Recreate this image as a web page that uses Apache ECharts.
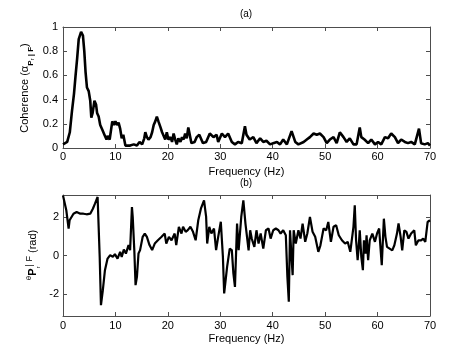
<!DOCTYPE html>
<html><head><meta charset="utf-8">
<script src="https://cdn.jsdelivr.net/npm/echarts@6/dist/echarts.min.js"></script>
<style>html,body{margin:0;padding:0;background:#fff}#c{width:474px;height:355px}</style>
</head><body><div id="c"></div>
<script>
// ---- data ----
const cohFreq = [0.0,0.4,0.8,1.3,1.7,2.1,2.4,2.7,3.0,3.45,3.8,4.06,4.3,4.57,4.9,5.2,5.4,5.65,6.0,6.3,6.5,6.8,7.1,7.5,7.9,8.3,8.5,8.9,9.2,9.4,9.7,10.0,10.3,10.6,10.9,11.2,11.5,11.9,12.2,12.8,13.5,14.1,14.6,15.1,15.5,15.7,16.0,16.3,16.7,17.0,17.3,17.6,17.9,18.2,18.6,18.9,19.2,19.5,19.8,20.1,20.5,20.8,21.1,21.4,21.7,22.0,22.4,22.7,23.0,23.3,23.6,23.9,24.5,25.1,25.5,26.0,26.7,27.3,28.0,28.7,29.3,29.6,30.3,30.9,31.5,32.2,32.8,33.4,34.1,34.7,35.0,35.6,36.3,36.9,37.6,38.2,38.8,39.5,40.1,40.8,41.4,42.0,42.7,43.6,44.3,44.9,45.9,46.5,47.1,47.8,48.4,49.0,49.7,50.3,50.9,51.6,52.2,52.8,53.5,54.1,54.7,55.4,56.0,56.6,56.9,57.5,58.2,58.8,59.5,60.1,60.7,61.4,62.0,62.6,63.3,63.9,64.5,65.2,65.8,66.4,67.1,67.9,68.3,69.0,69.6,70.0];
const cohVal = [0.03,0.04,0.05,0.13,0.30,0.45,0.60,0.74,0.90,0.96,0.93,0.80,0.63,0.50,0.47,0.39,0.25,0.29,0.39,0.36,0.29,0.26,0.19,0.15,0.11,0.07,0.10,0.07,0.16,0.22,0.19,0.22,0.19,0.21,0.16,0.08,0.11,0.02,0.03,0.02,0.03,0.02,0.05,0.03,0.08,0.13,0.09,0.07,0.09,0.13,0.19,0.22,0.26,0.22,0.17,0.13,0.12,0.07,0.13,0.07,0.09,0.05,0.12,0.07,0.03,0.08,0.05,0.09,0.07,0.12,0.08,0.17,0.04,0.05,0.09,0.11,0.04,0.05,0.12,0.09,0.11,0.05,0.12,0.09,0.12,0.05,0.03,0.05,0.04,0.18,0.11,0.07,0.09,0.04,0.08,0.05,0.06,0.03,0.04,0.05,0.03,0.07,0.03,0.14,0.05,0.03,0.05,0.07,0.09,0.12,0.11,0.12,0.09,0.04,0.07,0.09,0.04,0.13,0.09,0.05,0.08,0.03,0.03,0.17,0.09,0.07,0.04,0.07,0.03,0.05,0.03,0.09,0.08,0.12,0.09,0.04,0.07,0.05,0.04,0.05,0.03,0.16,0.04,0.03,0.04,0.02];

const phaseFreq = [0.0,0.1,0.63,1.07,1.26,2.0,2.6,3.3,3.9,4.5,5.2,5.7,6.1,6.6,6.8,7.0,7.24,7.6,8.0,8.5,9.0,9.5,9.9,10.4,10.9,11.2,11.6,12.0,12.5,12.8,13.15,13.3,13.6,13.84,14.1,14.4,14.7,15.2,15.6,16.0,16.5,17.0,17.5,18.1,18.8,19.4,19.7,20.2,20.7,21.3,21.6,22.1,22.6,22.9,23.4,23.8,24.3,24.8,25.3,25.8,26.3,26.9,27.3,27.5,27.9,28.3,28.8,29.2,29.6,30.1,30.5,30.74,31.3,31.8,32.2,32.5,32.8,33.2,33.5,34.0,34.4,34.8,35.05,35.4,35.7,36.0,36.5,36.9,37.3,37.7,38.2,38.7,39.2,39.6,40.1,40.6,41.1,41.5,42.0,42.5,42.8,43.07,43.3,43.6,43.8,44.0,44.4,44.9,45.3,45.7,46.2,46.6,47.1,47.6,48.1,48.7,49.1,49.7,50.2,50.6,51.1,51.6,52.1,52.6,53.2,53.8,54.3,54.8,55.1,55.4,55.65,55.9,56.2,56.4,56.6,56.9,57.2,57.4,57.7,57.9,58.2,58.5,59.0,59.5,59.9,60.3,60.5,60.8,61.2,61.5,61.8,62.3,62.8,63.2,63.7,64.0,64.4,64.7,65.1,65.5,65.9,66.4,67.0,67.3,67.8,68.3,68.7,69.1,69.55,70.0];
const phaseVal = [3.12,3.07,2.35,1.40,1.83,2.17,2.26,2.17,2.17,2.14,2.17,2.43,2.69,3.04,3.07,-0.07,-2.58,-1.80,-0.76,-0.16,0.02,-0.07,0.07,-0.16,0.19,-0.07,0.31,0.10,0.54,0.28,2.52,2.00,0.28,-1.54,-1.11,0.10,0.28,0.97,1.14,0.97,0.54,0.28,0.62,0.79,0.97,1.14,0.62,0.97,0.79,1.14,0.54,1.49,1.14,1.49,1.23,1.32,1.49,1.23,0.79,1.83,2.43,2.86,2.00,0.62,1.49,1.14,1.40,0.28,0.97,1.75,-0.07,-1.97,-0.59,0.36,0.28,-0.93,-1.63,1.66,0.28,2.00,2.86,1.66,1.66,0.27,1.31,0.88,0.45,1.31,0.62,1.14,0.36,1.31,1.40,0.88,1.31,1.40,1.31,1.14,1.31,1.05,-1.11,-2.40,1.31,-0.15,-1.02,1.31,0.62,1.31,0.88,1.66,0.71,1.14,2.00,1.23,0.97,0.19,0.53,1.40,1.31,1.74,0.71,1.49,1.57,1.05,0.79,0.62,0.71,0.19,0.10,1.49,2.61,0.79,-0.24,0.45,1.31,-0.07,-0.76,0.79,0.10,1.05,-0.24,0.79,1.14,0.71,1.14,1.40,0.62,-0.50,1.91,0.97,0.45,0.36,0.27,0.53,1.14,1.66,0.97,0.27,1.31,1.23,0.88,1.14,1.31,0.53,0.79,0.79,0.88,0.71,1.74,1.83];

const xTickStep = 10;
const cohTickStep = 0.2;
const phaseTickValues = [-2, 0, 2];

const FONT = 'Liberation Sans, Arial, Helvetica, sans-serif';
const AX = '#4d4d4d';

const cohData = cohFreq.map((f, i) => [f, cohVal[i]]);
const phaseData = phaseFreq.map((f, i) => [f, phaseVal[i]]);

function xAx(grid, pos, show, margin) {
  return {
    type: 'value', gridIndex: grid, position: pos, min: 0, max: 70, interval: xTickStep,
    axisLine: { show: true, onZero: false, lineStyle: { color: AX, width: 1 } },
    axisTick: { show: true, inside: true, length: 4, lineStyle: { color: AX } },
    axisLabel: { show: show, color: '#000', fontSize: 11, fontFamily: FONT, margin: margin },
    splitLine: { show: false },
    name: show ? 'Frequency (Hz)' : '', nameLocation: 'middle', nameGap: grid === 0 ? 18 : 17,
    nameTextStyle: { color: '#000', fontSize: 11, fontFamily: FONT, verticalAlign: 'top' }
  };
}

const option = {
  animation: false,
  backgroundColor: '#fff',
  grid: [
    { left: 63, top: 27, width: 367, height: 121 },
    { left: 63, top: 195, width: 367, height: 121 }
  ],
  xAxis: [
    xAx(0, 'bottom', true, 3),
    xAx(0, 'top', false, 3),
    xAx(1, 'bottom', true, 4),
    xAx(1, 'top', false, 4)
  ],
  yAxis: [
    { type: 'value', gridIndex: 0, position: 'left', min: 0, max: 1, interval: cohTickStep,
      axisLine: { show: true, onZero: false, lineStyle: { color: AX } },
      axisTick: { show: true, inside: true, length: 4, lineStyle: { color: AX } },
      axisLabel: { color: '#000', fontSize: 11, fontFamily: FONT, margin: 5 },
      splitLine: { show: false } },
    { type: 'value', gridIndex: 0, position: 'right', min: 0, max: 1, interval: cohTickStep,
      axisLine: { show: true, onZero: false, lineStyle: { color: AX } },
      axisTick: { show: true, inside: true, length: 4, lineStyle: { color: AX } },
      axisLabel: { show: false }, splitLine: { show: false } },
    { type: 'value', gridIndex: 1, position: 'left', min: -Math.PI, max: Math.PI,
      axisLine: { show: true, onZero: false, lineStyle: { color: AX } },
      axisTick: { show: true, inside: true, length: 4, lineStyle: { color: AX }, customValues: phaseTickValues },
      axisLabel: { color: '#000', fontSize: 11, fontFamily: FONT, margin: 4, customValues: phaseTickValues },
      splitLine: { show: false } },
    { type: 'value', gridIndex: 1, position: 'right', min: -Math.PI, max: Math.PI,
      axisLine: { show: true, onZero: false, lineStyle: { color: AX } },
      axisTick: { show: true, inside: true, length: 4, lineStyle: { color: AX }, customValues: phaseTickValues },
      axisLabel: { show: false, customValues: phaseTickValues }, splitLine: { show: false } }
  ],
  series: [
    { type: 'line', xAxisIndex: 0, yAxisIndex: 0, data: cohData, showSymbol: false,
      lineStyle: { color: '#000', width: 2.6 }, clip: true },
    { type: 'line', xAxisIndex: 2, yAxisIndex: 2, data: phaseData, showSymbol: false,
      lineStyle: { color: '#000', width: 2.2 }, clip: true }
  ],
  graphic: [
    { type: 'text', x: 246, y: 14, style: { text: '(a)', fill: '#000', font: '10px ' + FONT, textAlign: 'center', textVerticalAlign: 'middle' } },
    { type: 'text', x: 246, y: 183, style: { text: '(b)', fill: '#000', font: '10px ' + FONT, textAlign: 'center', textVerticalAlign: 'middle' } },
    { type: 'text', x: 27, y: 88, rotation: Math.PI / 2,
      style: { text: '{n|Coherence (α}{s|P}{r|r}{s| | F}{n|)}', fill: '#000', textAlign: 'center', textVerticalAlign: 'middle',
        rich: {
          n: { fontSize: 11, fontFamily: FONT, lineHeight: 16, verticalAlign: 'top', fill: '#000' },
          s: { fontSize: 8, fontFamily: FONT, fontWeight: 'bold', lineHeight: 10, verticalAlign: 'bottom', fill: '#000' },
          r: { fontSize: 6, fontFamily: FONT, lineHeight: 6, verticalAlign: 'bottom', fill: '#000' }
        } } },
    { type: 'text', x: 33, y: 255, rotation: Math.PI / 2,
      style: { text: '{t|θ}{p|P}{r|r}{f|| F}{n| (rad)}', fill: '#000', textAlign: 'center', textVerticalAlign: 'middle',
        rich: {
          t: { fontSize: 8, fontFamily: FONT, lineHeight: 8, verticalAlign: 'top', fill: '#000' },
          p: { fontSize: 11, fontFamily: FONT, fontWeight: 'bold', lineHeight: 16, verticalAlign: 'middle', fill: '#000' },
          r: { fontSize: 6, fontFamily: FONT, lineHeight: 6, verticalAlign: 'bottom', fill: '#000' },
          f: { fontSize: 9, fontFamily: FONT, lineHeight: 12, verticalAlign: 'top', fill: '#000' },
          n: { fontSize: 11, fontFamily: FONT, lineHeight: 16, verticalAlign: 'middle', fill: '#000' }
        } } }
  ]
};

const chart = echarts.init(document.getElementById('c'), null, { renderer: 'canvas' });
chart.setOption(option);
</script>
</body></html>
